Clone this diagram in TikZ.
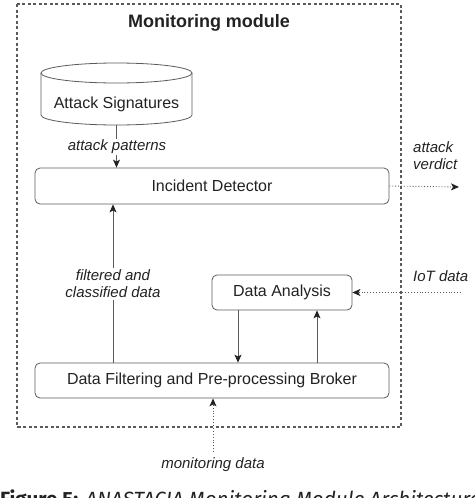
\documentclass[tikz,border=0pt]{standalone}
\usepackage{fontspec}
\setmainfont{Liberation Sans}
\newfontfamily\capfont{Fira Sans}
\usetikzlibrary{arrows.meta}
\definecolor{ln}{HTML}{5A5A5A}
\definecolor{tx}{HTML}{222222}
\tikzset{
  box/.style={draw=ln, line width=0.8pt, rounded corners=5pt, font=\fontsize{16}{18}\selectfont, text=tx},
  lbl/.style={font=\fontsize{15}{17}\selectfont\itshape, text=tx, align=center, inner sep=1pt},
  arr/.style={draw=ln, line width=0.8pt, -{Stealth[length=8pt,width=7pt,inset=2pt,color=tx]}},
  dotarr/.style={draw=ln, line width=0.9pt, dotted, -{Stealth[length=8pt,width=7pt,inset=2pt,color=tx]}},
  plain/.style={draw=ln, line width=0.8pt}
}
\begin{document}
\begin{tikzpicture}[x=1pt,y=-1pt]
\useasboundingbox (0,0) rectangle (474,498);
% module border
\draw[ln, line width=1.1pt, dash pattern=on 3pt off 2.5pt] (17,4) rectangle (401,427);
\node[font=\fontsize{18}{20}\selectfont\bfseries, text=tx] (title) at (209,23) {Monitoring module};
% cylinder
\node[minimum width=151pt, minimum height=62pt, inner sep=0pt, font=\fontsize{16}{18}\selectfont, text=tx] (sig) at (116.5,94) {};
\node[font=\fontsize{16}{18}\selectfont, text=tx] (sigt) at (116.5,104) {Attack Signatures};
\draw[plain] (116.5,73) ellipse[x radius=75.5, y radius=10];
\draw[plain] (41,73) -- (41,115) arc[start angle=180, end angle=0, x radius=75.5, y radius=10] -- (192,73);
% boxes
\node[box, minimum width=354pt, minimum height=36pt] (id) at (212,186) {Incident Detector};
\node[box, minimum width=140pt, minimum height=35pt] (da) at (282,292.5) {Data Analysis};
\node[box, minimum width=354pt, minimum height=35pt] (dfb) at (212,380.5) {Data Filtering and Pre-processing Broker};
% attack patterns
\draw[arr] (sig.south) -- (sig.south |- id.north);
\node[lbl, fill=white] (ap) at (117,147) {attack patterns};
% filtered and classified
\coordinate (fx) at (113,284);
\draw[arr] (fx |- dfb.north) -- (fx |- id.south);
\node[lbl, fill=white, inner sep=2pt] (fc) at (fx) {filtered and\\classified data};
% DA <-> DFB
\draw[arr] (238,0 |- da.south) -- (238,0 |- dfb.north);
\draw[arr] (317,0 |- dfb.north) -- (317,0 |- da.south);
% external
\coordinate (av) at (459,187);
\draw[dotarr] (id.east) -- (av);
\node[lbl, align=left, anchor=west] (avl) at (412,156) {attack\\verdict};
\coordinate (iot) at (461,292.5);
\draw[dotarr] (iot) -- (da.east);
\node[lbl, anchor=west] (iotl) at (412,276) {IoT data};
\coordinate (md) at (213,452);
\draw[dotarr] (md) -- (md |- dfb.south);
\node[lbl] (mdl) at (213,465) {monitoring data};
% caption (clipped at the bottom edge, as in the reference)
\node[anchor=base west, inner sep=0pt, font=\capfont\fontsize{20.6}{24}\selectfont, text=tx] (cap) at (0,506) {\textbf{Figure 5:} \textit{ANASTACIA Monitoring Module Architecture}};
\end{tikzpicture}
\end{document}
